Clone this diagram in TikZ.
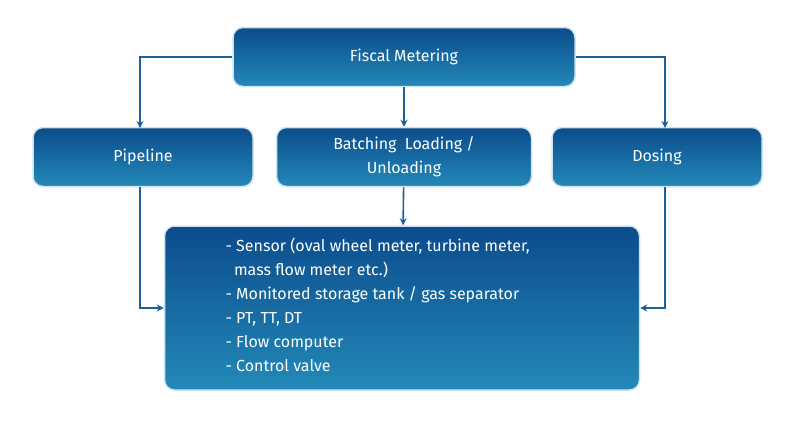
\documentclass[tikz,border=0pt]{standalone}
\usepackage{fontspec}
\setmainfont{Fira Sans}
\usetikzlibrary{positioning,arrows.meta}
\definecolor{boxtop}{HTML}{0B4C8C}
\definecolor{boxbot}{HTML}{2389B8}
\definecolor{boxrim}{HTML}{CFE3EF}
\definecolor{linkcol}{HTML}{1D5F9C}
\tikzset{
  box/.style={draw=boxrim, line width=1.5pt, rounded corners=10pt, top color=boxtop, bottom color=boxbot,
    text=white, font=\fontsize{16}{24}\selectfont, align=center, inner sep=0pt},
  link/.style={draw=linkcol, line width=1.6pt, -{Stealth[length=7pt,width=7pt]}}
}
\begin{document}
\begin{tikzpicture}[x=1pt, y=-1pt]
  \useasboundingbox (0,0) rectangle (800,423);

  \node[box, minimum width=342pt, minimum height=59pt] (fiscal) at (404,57) {Fiscal Metering};
  \node[box, minimum width=220pt, minimum height=59pt] (pipe) at (143,157) {Pipeline};
  \node[box, minimum width=255pt, minimum height=59pt] (batch) at (404,157) {Batching\ \ Loading /\\Unloading};
  \node[box, minimum width=210pt, minimum height=59pt] (dose) at (657,157) {Dosing};
  \node[box, minimum width=475pt, minimum height=164pt] (meter) at (402,308) {};
  \node[text=white, font=\fontsize{16}{24}\selectfont, align=left, anchor=north west] (list) at (222,234)
    {- Sensor (oval wheel meter, turbine meter,\\
     \ \ mass flow meter etc.)\\
     - Monitored storage tank / gas separator\\
     - PT, TT, DT\\
     - Flow computer\\
     - Control valve};

  \coordinate (pl) at (140,128);
  \coordinate (dr) at (665,128);
  \draw[link] (fiscal.west) -| (pl);
  \draw[link] (fiscal.east) -| (dr);
  \draw[link] (fiscal) -- (batch);
  \draw[link] (batch) -- (meter);
  \draw[link] (140,187) |- (meter.west);
  \draw[link] (665,187) |- (meter.east);
\end{tikzpicture}
\end{document}
